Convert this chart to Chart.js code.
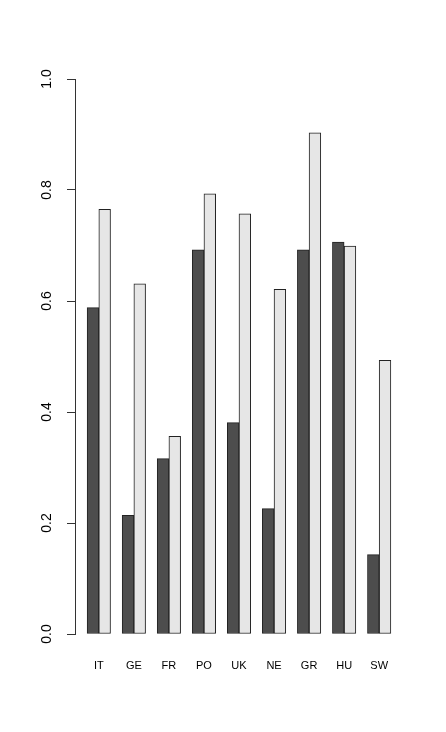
<!DOCTYPE html>
<html>
<head>
<meta charset="utf-8">
<script src="https://cdn.jsdelivr.net/npm/chart.js@4"></script>
<style>
  html, body { margin: 0; padding: 0; background: #fff; }
  #wrap { width: 446px; height: 732px; position: relative; }
</style>
</head>
<body>
<div id="wrap"><canvas id="chart"></canvas></div>
<script>
// country codes and the two series (dark = first, light = second)
const countries = ["IT", "GE", "FR", "PO", "UK", "NE", "GR", "HU", "SW"];
const seriesDark = [0.588, 0.214, 0.316, 0.692, 0.381, 0.226, 0.692, 0.706, 0.143];
const seriesLight = [0.765, 0.631, 0.356, 0.793, 0.757, 0.621, 0.903, 0.699, 0.493];
const yTicks = [0, 0.2, 0.4, 0.6, 0.8, 1.0];

// barplot(beside=TRUE) layout: groups of 2 bars with 1 bar gap, centre of group i at 2 + 3*i
const groupCentre = (i) => 2 + 3 * i;

// rotated y labels, centred on their tick like R's axis(2)
const yLabels = {
  id: "yLabels",
  afterDraw(chart) {
    const ctx = chart.ctx;
    const y = chart.scales.y;
    ctx.save();
    ctx.fillStyle = "#000";
    ctx.font = "14px 'Liberation Sans', Arial, sans-serif";
    ctx.textAlign = "center";
    ctx.textBaseline = "middle";
    y.ticks.forEach((t) => {
      const py = y.getPixelForValue(t.value);
      ctx.save();
      ctx.translate(47, py);
      ctx.rotate(-Math.PI / 2);
      ctx.fillText(t.value.toFixed(1), 0, 0);
      ctx.restore();
    });
    ctx.restore();
  },
};

const canvas = document.getElementById("chart");
const chart = new Chart(canvas, {
  type: "bar",
  data: {
    datasets: [
      {
        data: seriesDark.map((v, i) => ({ x: groupCentre(i), y: v })),
        backgroundColor: "#4d4d4d",
        borderColor: "#222222",
        borderWidth: 1,
        borderSkipped: false,
        barThickness: 11.7,
      },
      {
        data: seriesLight.map((v, i) => ({ x: groupCentre(i), y: v })),
        backgroundColor: "#e6e6e6",
        borderColor: "#222222",
        borderWidth: 1,
        borderSkipped: false,
        barThickness: 11.7,
      },
    ],
  },
  options: {
    responsive: true,
    maintainAspectRatio: false,
    animation: { duration: 0 },
    layout: { padding: { top: 79, right: 43, left: 0, bottom: 0 } },
    plugins: { legend: { display: false }, tooltip: { enabled: false } },
    scales: {
      x: {
        type: "linear",
        offset: false,
        min: -0.04,
        max: 28.04,
        grid: { display: false, drawTicks: false },
        border: { display: false },
        afterBuildTicks: (s) => {
          s.ticks = countries.map((c, i) => ({ value: groupCentre(i) }));
        },
        afterFit: (s) => {
          s.height = 732 - 634;
        },
        ticks: {
          autoSkip: false,
          maxRotation: 0,
          padding: 25,
          color: "#000",
          font: { family: "'Liberation Sans', Arial, sans-serif", size: 11 },
          callback: (v) => countries[(v - 2) / 3],
        },
      },
      y: {
        min: 0,
        max: 1,
        afterBuildTicks: (s) => {
          s.ticks = yTicks.map((v) => ({ value: v }));
        },
        afterFit: (s) => {
          s.width = 75;
        },
        grid: {
          drawOnChartArea: false,
          drawTicks: true,
          tickLength: 8,
          color: "#333",
          lineWidth: 1,
        },
        border: { display: true, color: "#333", width: 1 },
        ticks: { display: false },
      },
    },
  },
  plugins: [yLabels],
});
</script>
</body>
</html>
